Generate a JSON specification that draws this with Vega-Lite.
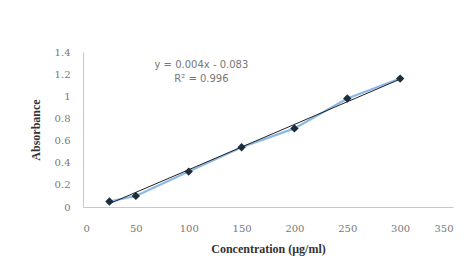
{
  "$schema": "https://vega.github.io/schema/vega-lite/v6.json",
  "autosize": {"type": "none"},
  "width": 370,
  "height": 155,
  "padding": {"left": 83, "top": 52, "right": 21, "bottom": 63},
  "background": "white",
  "config": {
    "view": {"stroke": null},
    "font": "Liberation Sans"
  },
  "datasets": {
    "pts": [
      {"conc": 25, "abs": 0.05},
      {"conc": 50, "abs": 0.10},
      {"conc": 100, "abs": 0.32},
      {"conc": 150, "abs": 0.54},
      {"conc": 200, "abs": 0.71},
      {"conc": 250, "abs": 0.98},
      {"conc": 300, "abs": 1.16}
    ],
    "trend": [
      {"conc": 25, "abs": 0.03},
      {"conc": 300, "abs": 1.155}
    ],
    "notes": [
      {"conc": 112, "abs": 1.285, "label": "y = 0.004x - 0.083"},
      {"conc": 112, "abs": 1.16, "label": "R² = 0.996"}
    ]
  },
  "layer": [
    {
      "data": {"name": "pts"},
      "mark": {"type": "line", "color": "#8db8e6", "strokeWidth": 2.2},
      "encoding": {
        "x": {
          "field": "conc", "type": "quantitative",
          "scale": {"domain": [0, 350], "nice": false},
          "axis": {
            "title": "Concentration  (μg/ml)",
            "values": [0, 50, 100, 150, 200, 250, 300, 350],
            "labelOverlap": false,
            "grid": false, "ticks": false, "domainColor": "#c8c8c8",
            "labelPadding": 16, "labelColor": "#777777", "labelFont": "DejaVu Serif", "labelFontSize": 10,
            "titleFontSize": 12, "titleFontWeight": "bold", "titleColor": "#333333", "titlePadding": 10,
            "titleFont": "Liberation Serif"
          }
        },
        "y": {
          "field": "abs", "type": "quantitative",
          "scale": {"domain": [0, 1.4], "nice": false, "zero": false},
          "axis": {
            "title": "Absorbance",
            "tickCount": 8,
            "labelExpr": "format(datum.value, '.1~f')",
            "labelOverlap": false, "labelBound": false, "labelFlush": false,
            "grid": false, "ticks": false, "domainColor": "#c8c8c8",
            "labelPadding": 13, "labelColor": "#777777", "labelFont": "DejaVu Serif", "labelFontSize": 10,
            "titleFontSize": 12, "titleFontWeight": "bold", "titleColor": "#333333", "titlePadding": 12,
            "titleFont": "Liberation Serif"
          }
        }
      }
    },
    {
      "data": {"name": "trend"},
      "mark": {"type": "line", "color": "#222222", "strokeWidth": 1},
      "encoding": {
        "x": {"field": "conc", "type": "quantitative"},
        "y": {"field": "abs", "type": "quantitative"}
      }
    },
    {
      "data": {"name": "pts"},
      "mark": {"type": "point", "shape": "diamond", "filled": true, "color": "#1e2d3a", "size": 70, "opacity": 1},
      "encoding": {
        "x": {"field": "conc", "type": "quantitative"},
        "y": {"field": "abs", "type": "quantitative"}
      }
    },
    {
      "data": {"name": "notes"},
      "mark": {"type": "text", "fontSize": 10, "color": "#777777", "font": "DejaVu Sans", "align": "center"},
      "encoding": {
        "x": {"field": "conc", "type": "quantitative"},
        "y": {"field": "abs", "type": "quantitative"},
        "text": {"field": "label"}
      }
    }
  ]
}
